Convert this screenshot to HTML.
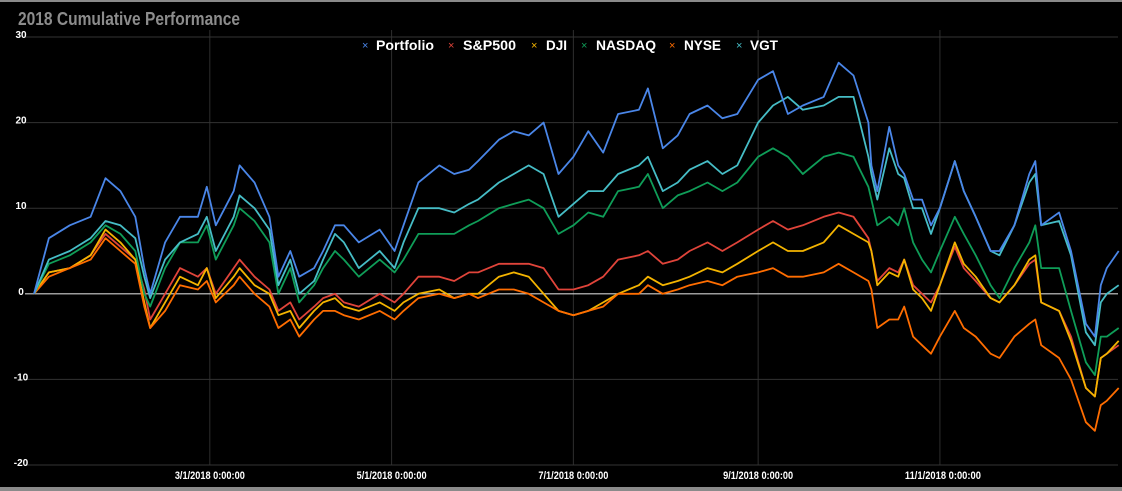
<!DOCTYPE html>
<html><head><meta charset="utf-8">
<style>
html,body{margin:0;padding:0;background:#000;}
body{width:1122px;height:491px;overflow:hidden;position:relative;}
svg{position:absolute;left:0;top:0;}
</style></head>
<body>
<svg id="chart" width="1122" height="491" font-family="'Liberation Sans Narrow','Liberation Sans',sans-serif">
  <rect x="0" y="0" width="1122" height="491" fill="#000"/>
  <rect x="0" y="0" width="1122" height="2" fill="#8a8a8a"/>
  <rect x="0" y="487" width="1122" height="4" fill="#8a8a8a"/>
  <text x="18" y="25" fill="#8c8c8c" font-size="18" font-weight="bold" textLength="222" lengthAdjust="spacingAndGlyphs">2018 Cumulative Performance</text>
  <g id="grid"></g>
  <g id="series"></g>
  <g id="legend"></g>
</svg>
<script>
const days = [0,5,12,19,24,29,34,37,39,44,49,55,58,61,67,69,74,79,82,86,89,94,97,101,104,109,116,121,124,129,136,141,146,149,156,161,166,171,176,181,186,191,196,203,206,211,216,220,226,231,236,243,248,253,258,265,270,275,280,281,283,287,290,292,295,298,301,304,309,312,316,321,324,329,334,336,338,344,348,353,356,358,360,364];
const portfolio = [0,6.5,8,9,13.5,12,9,3,0,6,9,9,12.5,8,12,15,13,9,2,5,2,3,5,8,8,6,7.5,5,8,13,15,14,14.5,15.5,18,19,18.5,20,14,16,19,16.5,21,21.5,24,17,18.5,21,22,20.5,21,25,26,21,22,23,27,25.5,20,15,12,19.5,15,14,11,11,8,10,15.5,12,9,5,5,8,14,15.5,8,9.5,5,-3.5,-5,1,3,5];
const sp500 = [0,2.5,3,4.5,7,5.5,4,0.5,-3,0,3,2,3,0,3,4,2,0.5,-2,-1,-3,-1.5,-0.5,0,-1,-1.5,0,-1,0,2,2,1.5,2.5,2.5,3.5,3.5,3.5,3,0.5,0.5,1,2,4,4.5,5,3.5,4,5,6,5,6,7.5,8.5,7.5,8,9,9.5,9,6.5,5,1.5,3,2.5,4,1,0,-1,1,5.5,3,1.5,-0.5,-1,1,3.5,4,-1,-2,-5,-11,-12,-7.5,-7,-6];
const dji = [0,2.5,3,4.5,7.5,6,4,-1,-4,-1,2,1,3,-0.5,2,3,1,0,-2.5,-2,-4,-2,-1,-0.5,-1.5,-2,-1,-2,-1,0,0.5,-0.5,0,0,2,2.5,2,0,-2,-2.5,-2,-1,0,1,2,1,1.5,2,3,2.5,3.5,5,6,5,5,6,8,7,6,5,1,2.5,2,4,0.5,-0.5,-2,1,6,3.5,2,-0.5,-1,1,4,4.5,-1,-2,-5.5,-11,-12,-7.5,-7,-5.5];
const nasdaq = [0,3.5,4.5,6,8,7,5,0,-1.5,3,6,6,8,4,8,10,8.5,6,0,3,-1,1,3,5,4,2,4,2.5,4,7,7,7,8,8.5,10,10.5,11,10,7,8,9.5,9,12,12.5,14,10,11.5,12,13,12,13,16,17,16,14,16,16.5,16,12.5,11,8,9,8,10,6,4,2.5,5,9,7,4.5,1,-0.5,3,6,8,3,3,-2,-8,-9.5,-5,-5,-4];
const nyse = [0,2,3,4,6.5,5,3.5,-1.5,-4,-2,1,0.5,1.5,-1,1,2,0,-1.5,-4,-3,-5,-3,-2,-2,-2.5,-3,-2,-3,-2,-0.5,0,-0.5,0,-0.5,0.5,0.5,0,-1,-2,-2.5,-2,-1.5,0,0,1,0,0.5,1,1.5,1,2,2.5,3,2,2,2.5,3.5,2.5,1.5,0.5,-4,-3,-3,-1.5,-5,-6,-7,-5,-2,-4,-5,-7,-7.5,-5,-3.5,-3,-6,-7.5,-10,-15,-16,-13,-12.5,-11];
const vgt = [0,4,5,6.5,8.5,8,6.5,2,-0.5,4,6,7,9,5,9,11.5,10,7.5,1,4,0,1.5,4,7,6,3,5,3,6,10,10,9.5,10.5,11,13,14,15,14,9,10.5,12,12,14,15,16,12,13,14.5,15.5,14,15,20,22,23,21.5,22,23,23,16,14,11,17,14,13.5,10,10,7,10,15.5,12,9,5,4.5,8,13,14,8,8.5,4.5,-4.5,-6,-1,0,1];
const yTicks = [30,20,10,0,-10,-20];
const xTickDays = [59,120,181,243,304];
const xTickLabels = ["3/1/2018 0:00:00","5/1/2018 0:00:00","7/1/2018 0:00:00","9/1/2018 0:00:00","11/1/2018 0:00:00"];
const seriesNames = ["Portfolio","S&P500","DJI","NASDAQ","NYSE","VGT"];
const seriesColors = ["#4a86e8","#e0443a","#f4b400","#0f9d58","#ff6d00","#46bdc6"];
const seriesData = [portfolio,sp500,dji,nasdaq,nyse,vgt];

const NS = "http://www.w3.org/2000/svg";
const X0 = 34, PXD = 2.98, Y0 = 293.8, PXV = 8.56;
const xs = d => X0 + d * PXD;
const ys = v => Y0 - v * PXV;
function mk(tag, attrs, parent){const e=document.createElementNS(NS,tag);for(const k in attrs)e.setAttribute(k,attrs[k]);parent.appendChild(e);return e;}

const grid = document.getElementById('grid');
xTickDays.forEach((d,i)=>{
  const l = mk('line',{x1:xs(d),x2:xs(d),y1:30,y2:465,stroke:'#2e2e2e','stroke-width':1},grid);
  
  
  const t = mk('text',{x:xs(d)-35,y:479,fill:'#fff','font-size':11,'font-weight':'bold',textLength:(i===4?76:70),lengthAdjust:'spacingAndGlyphs'},grid);
  t.textContent = xTickLabels[i];
  
  
});
yTicks.forEach(v=>{
  const l = mk('line',{x1:25,x2:1118,y1:ys(v),y2:ys(v),stroke:v===0?'#cfcfcf':'#333','stroke-width':v===0?1.2:1},grid);
  
  
  const t = mk('text',{x:21,y:ys(v)+1,fill:'#fff','font-size':10,'font-weight':'bold','text-anchor':'middle'},grid);
  t.textContent = v;
  
  
});

const sg = document.getElementById('series');
[1,2,4,3,5,0].forEach(i=>{
  const pts = days.map((d,j)=>xs(d).toFixed(1)+','+ys(seriesData[i][j]).toFixed(1)).join(' ');
  const p = mk('polyline',{points:pts,fill:'none',stroke:seriesColors[i],'stroke-width':1.8,'stroke-linejoin':'round'},sg);
  
  
});

const lg = document.getElementById('legend');
const markerX = [362,448,531,581,669,736];
const textX = [376,463,546,596,684,750];
const textW = [58,53,21,60,37,28];
seriesNames.forEach((n,i)=>{
  const m = mk('text',{x:markerX[i],y:49,fill:seriesColors[i],'font-size':11},lg);
  m.textContent = '×';
  
  
  const t = mk('text',{x:textX[i],y:50,fill:'#fff','font-size':14,'font-weight':'bold',textLength:textW[i],lengthAdjust:'spacingAndGlyphs'},lg);
  t.textContent = n;
  
  
});
</script>
</body></html>
